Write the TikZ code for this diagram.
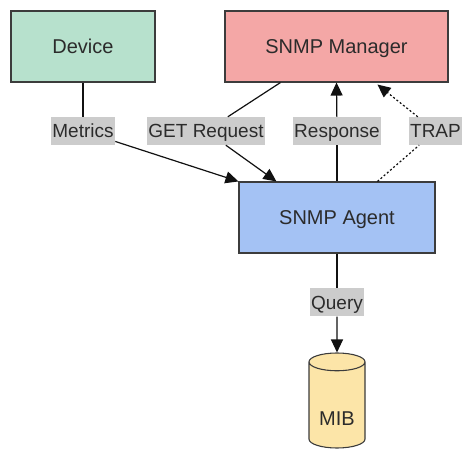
\documentclass[tikz,border=0pt]{standalone}
\usepackage{fontspec}
\setmainfont{Liberation Sans}
\usetikzlibrary{shapes.geometric,arrows.meta}
\definecolor{devfill}{HTML}{B7E1CD}
\definecolor{mgrfill}{HTML}{F4A7A6}
\definecolor{agtfill}{HTML}{A4C2F4}
\definecolor{mibfill}{HTML}{FCE5A8}
\definecolor{edgec}{HTML}{111111}
\definecolor{boxline}{HTML}{3C3C3C}
\definecolor{labfill}{HTML}{CCCCCC}
\definecolor{txt}{HTML}{2B2B2B}
\begin{document}
\begin{tikzpicture}[x=1pt,y=-1pt,
 box/.style={draw=boxline, line width=1.1pt, minimum height=71pt, font=\fontsize{20}{24}\selectfont, text=txt, inner sep=0pt, text height=14.3pt, text depth=0pt},
 elabel/.style={fill=labfill, font=\fontsize{19}{22}\selectfont, text=txt, inner xsep=1.5pt, minimum height=28pt, inner ysep=0pt, text height=13.6pt, text depth=0pt},
 conn/.style={draw=edgec, line width=1.2pt},
 dotline/.style={dash pattern=on 2pt off 2.2pt},
 tip/.style={-{Triangle[length=13pt,width=12pt]}}
]
\useasboundingbox (0,0) rectangle (474,462);
\node[box, fill=devfill, minimum width=144pt] (device) at (83,46.5) {Device};
\node[box, fill=mgrfill, minimum width=223pt] (manager) at (336.5,46.5) {SNMP Manager};
\node[box, fill=agtfill, minimum width=196pt] (agent) at (337,217.5) {SNMP Agent};
\node[cylinder, shape border rotate=90, anchor=shape center, draw=boxline, line width=1.1pt, fill=mibfill, minimum width=56pt, minimum height=95pt, aspect=0.5, inner sep=0pt, font=\fontsize{20}{24}\selectfont, text=txt, text height=40pt, text depth=0pt] (mib) at (337,400.5) {MIB};
\node[elabel] (lmet) at (83,131) {Metrics};
\node[elabel] (lget) at (206,131) {GET Request};
\node[elabel] (lresp) at (337,131) {Response};
\node[elabel] (ltrap) at (435.5,131) {TRAP};
\node[elabel] (lq) at (337,302.5) {Query};
\coordinate (getsrc) at ([xshift=56pt]manager.south west);
\coordinate (getdst) at ([xshift=38pt]agent.north west);
\coordinate (trapsrc) at ([xshift=139pt]agent.north west);
\coordinate (trapdst) at ([xshift=153pt,yshift=-2pt]manager.south west);
\draw[conn] (device) -- (lmet);
\draw[conn, tip] (lmet) -- (agent.north west);
\draw[conn] (getsrc) -- (lget);
\draw[conn, tip] (lget) -- (getdst);
\draw[conn] (agent.north) -- (lresp);
\draw[conn, tip] (lresp) -- (manager.south);
\draw[conn, dotline] (trapsrc) -- (ltrap);
\draw[conn, dotline, tip] (ltrap) -- (trapdst);
\draw[conn] (agent) -- (lq);
\draw[conn, tip] (lq) -- (mib);
\end{tikzpicture}
\end{document}
